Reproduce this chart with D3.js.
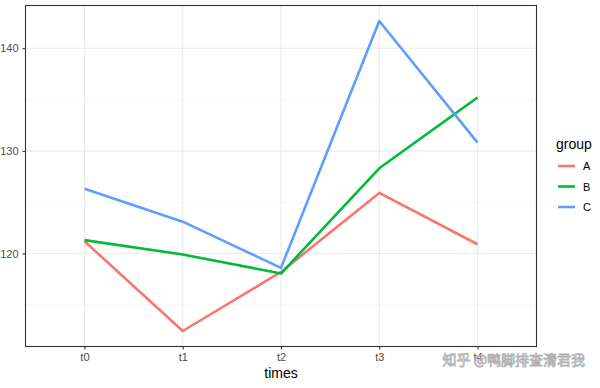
<!DOCTYPE html>
<html><head><meta charset="utf-8">
<script src="https://cdn.jsdelivr.net/npm/d3@7"></script>
<style>body{margin:0;background:#fff;}svg{display:block;}</style>
</head><body>
<svg id="c" width="600" height="388"></svg>
<script>
const times = ["t0","t1","t2","t3","t4"];
const groups = ["A","B","C"];
const valuesA = [121.2, 112.45, 118.2, 125.9, 120.9];
const valuesB = [121.3, 119.9, 118.05, 128.3, 135.2];
const valuesC = [126.3, 123.1, 118.6, 142.65, 130.8];
const colors = ["#F8766D", "#00BA38", "#619CFF"];
const yTicks = [120, 130, 140];
const yMinor = [115, 125, 135];

const series = [valuesA, valuesB, valuesC];
const svg = d3.select("#c");
const L = 25.5, R = 536.5, T = 5.5, B = 346.5;

const x = d3.scalePoint().domain(times).range([L, R]).padding(0.6);
const allV = series.flat();
const mn = d3.min(allV), mx = d3.max(allV), pad = (mx - mn) * 0.05;
const y = d3.scaleLinear().domain([mn - pad, mx + pad]).range([B, T]);

const g = svg.append("g");
// grid
g.selectAll(".minor").data(yMinor).join("line")
  .attr("x1", L).attr("x2", R).attr("y1", d => y(d)).attr("y2", d => y(d))
  .attr("stroke", "#f2f2f2").attr("stroke-width", 0.6);
g.selectAll(".major").data(yTicks).join("line")
  .attr("x1", L).attr("x2", R).attr("y1", d => y(d)).attr("y2", d => y(d))
  .attr("stroke", "#ebebeb").attr("stroke-width", 1.1);
g.selectAll(".vmaj").data(times).join("line")
  .attr("x1", d => x(d)).attr("x2", d => x(d)).attr("y1", T).attr("y2", B)
  .attr("stroke", "#ebebeb").attr("stroke-width", 1.1);

// lines
const line = d3.line().x((d, i) => x(times[i])).y(d => y(d));
series.forEach((s, k) => {
  g.append("path").datum(s).attr("d", line).attr("fill", "none")
    .attr("stroke", colors[k]).attr("stroke-width", 2.6).attr("stroke-linejoin", "round");
});

// border
g.append("rect").attr("x", L).attr("y", T).attr("width", R - L).attr("height", B - T)
  .attr("fill", "none").attr("stroke", "#333333").attr("stroke-width", 1.1);

// axes
const xa = svg.append("g").attr("transform", `translate(0,${B})`)
  .call(d3.axisBottom(x).tickSize(3).tickPadding(4));
const ya = svg.append("g").attr("transform", `translate(${L},0)`)
  .call(d3.axisLeft(y).tickValues(yTicks).tickSize(3).tickPadding(4));
[xa, ya].forEach(a => {
  a.select(".domain").remove();
  a.selectAll(".tick line").attr("stroke", "#333333").attr("stroke-width", 1.1);
  a.selectAll(".tick text").attr("fill", "#4d4d4d").style("font-family", "Liberation Sans, Arial, sans-serif").style("font-size", "11px");
});

svg.append("text").attr("x", (L + R) / 2).attr("y", 378).attr("text-anchor", "middle")
  .style("font-family", "Liberation Sans, Arial, sans-serif").style("font-size", "14px").attr("fill", "#000")
  .text("times");

// legend
const lg = svg.append("g");
lg.append("text").attr("x", 556).attr("y", 149)
  .style("font-family", "Liberation Sans, Arial, sans-serif").style("font-size", "14px").attr("fill", "#000")
  .text("group");
groups.forEach((gname, i) => {
  const cy = 166 + i * 20.5;
  lg.append("line").attr("x1", 558).attr("x2", 575).attr("y1", cy).attr("y2", cy)
    .attr("stroke", colors[i]).attr("stroke-width", 2.6);
  lg.append("text").attr("x", 583).attr("y", cy + 4)
    .style("font-family", "Liberation Sans, Arial, sans-serif").style("font-size", "11px").attr("fill", "#000")
    .text(gname);
});

// watermark
svg.append("text").attr("x", 585).attr("y", 365).attr("text-anchor", "end")
  .style("font-family", "Noto Sans CJK SC, sans-serif").style("font-size", "14px")
  .attr("fill", "#ffffff").attr("stroke", "#b0b0b0").attr("stroke-width", 0.8)
  .text("知乎 @鸭脚排查清君我");
</script>
</body></html>
